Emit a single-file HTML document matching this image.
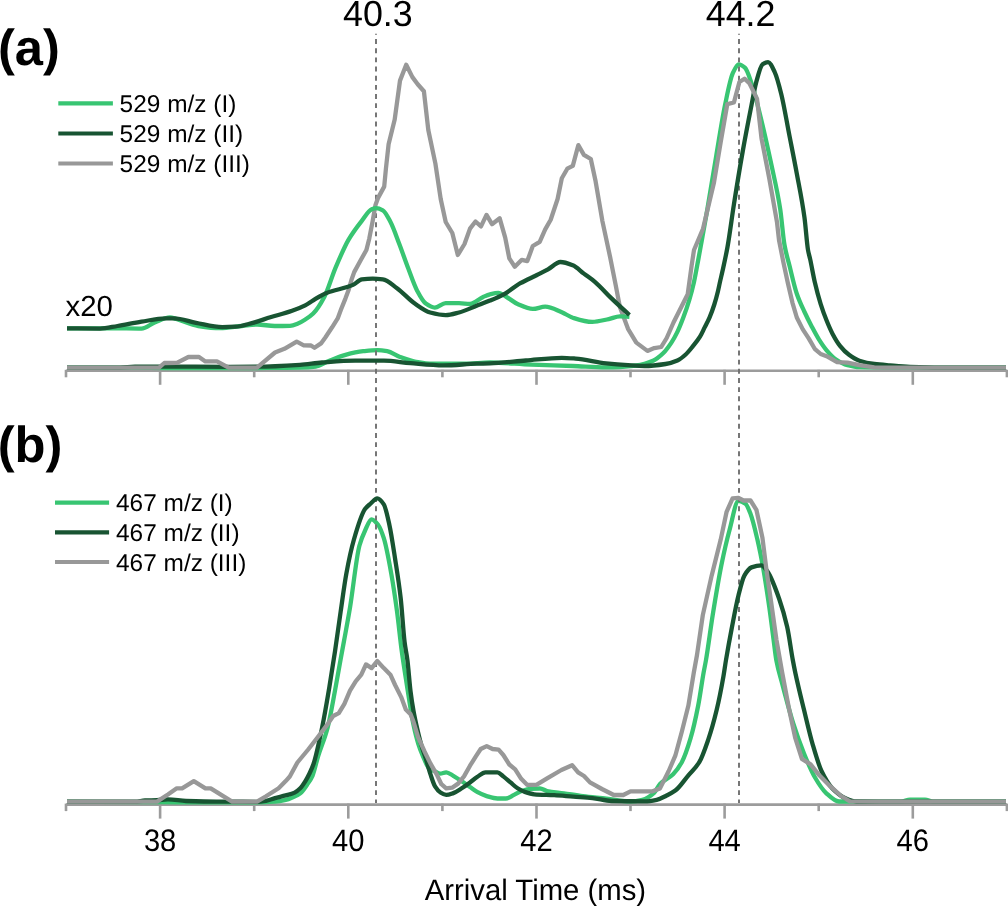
<!DOCTYPE html>
<html><head><meta charset="utf-8"><title>Arrival Time</title>
<style>
html,body{margin:0;padding:0;background:#fff;}
svg{display:block;}
text{font-family:"Liberation Sans",Arial,sans-serif;fill:#000;text-rendering:geometricPrecision;}
.pl{font-size:50.7px;font-weight:bold;}
.big{font-size:36.2px;}
.tk{font-size:31px;}
.x20{font-size:29px;}
.ttl{font-size:29.6px;}
.lg{font-size:24.2px;}
</style></head>
<body>
<svg width="1008" height="906" viewBox="0 0 1008 906">
<line x1="66" y1="370.8" x2="1007" y2="370.8" stroke="#9c9c9c" stroke-width="2.6"/>
<line x1="66.0" y1="369.8" x2="66.0" y2="377.3" stroke="#9c9c9c" stroke-width="2.6"/>
<line x1="160.1" y1="369.8" x2="160.1" y2="384.8" stroke="#9c9c9c" stroke-width="2.6"/>
<line x1="254.2" y1="369.8" x2="254.2" y2="377.3" stroke="#9c9c9c" stroke-width="2.6"/>
<line x1="348.3" y1="369.8" x2="348.3" y2="384.8" stroke="#9c9c9c" stroke-width="2.6"/>
<line x1="442.4" y1="369.8" x2="442.4" y2="377.3" stroke="#9c9c9c" stroke-width="2.6"/>
<line x1="536.5" y1="369.8" x2="536.5" y2="384.8" stroke="#9c9c9c" stroke-width="2.6"/>
<line x1="630.5" y1="369.8" x2="630.5" y2="377.3" stroke="#9c9c9c" stroke-width="2.6"/>
<line x1="724.6" y1="369.8" x2="724.6" y2="384.8" stroke="#9c9c9c" stroke-width="2.6"/>
<line x1="818.7" y1="369.8" x2="818.7" y2="377.3" stroke="#9c9c9c" stroke-width="2.6"/>
<line x1="912.8" y1="369.8" x2="912.8" y2="384.8" stroke="#9c9c9c" stroke-width="2.6"/>
<line x1="1006.9" y1="369.8" x2="1006.9" y2="377.3" stroke="#9c9c9c" stroke-width="2.6"/>
<line x1="66" y1="804.6" x2="1007" y2="804.6" stroke="#9c9c9c" stroke-width="2.6"/>
<line x1="66.0" y1="803.6" x2="66.0" y2="811.1" stroke="#9c9c9c" stroke-width="2.6"/>
<line x1="160.1" y1="803.6" x2="160.1" y2="818.6" stroke="#9c9c9c" stroke-width="2.6"/>
<line x1="254.2" y1="803.6" x2="254.2" y2="811.1" stroke="#9c9c9c" stroke-width="2.6"/>
<line x1="348.3" y1="803.6" x2="348.3" y2="818.6" stroke="#9c9c9c" stroke-width="2.6"/>
<line x1="442.4" y1="803.6" x2="442.4" y2="811.1" stroke="#9c9c9c" stroke-width="2.6"/>
<line x1="536.5" y1="803.6" x2="536.5" y2="818.6" stroke="#9c9c9c" stroke-width="2.6"/>
<line x1="630.5" y1="803.6" x2="630.5" y2="811.1" stroke="#9c9c9c" stroke-width="2.6"/>
<line x1="724.6" y1="803.6" x2="724.6" y2="818.6" stroke="#9c9c9c" stroke-width="2.6"/>
<line x1="818.7" y1="803.6" x2="818.7" y2="811.1" stroke="#9c9c9c" stroke-width="2.6"/>
<line x1="912.8" y1="803.6" x2="912.8" y2="818.6" stroke="#9c9c9c" stroke-width="2.6"/>
<line x1="1006.9" y1="803.6" x2="1006.9" y2="811.1" stroke="#9c9c9c" stroke-width="2.6"/>
<path d="M67.0,367.6 C94.67,367.67 122.33,367.68 150.0,367.8 C163.33,367.86 176.67,368.20 190.0,368.2 C203.33,368.20 216.67,368.20 230.0,368.2 C239.00,368.20 248.00,368.08 257.0,368.0 C271.33,367.87 285.67,367.82 300.0,367.5 C305.23,367.38 310.47,367.10 315.7,366.5 C319.67,366.05 323.63,363.08 327.6,361.5 C333.57,359.13 339.53,356.37 345.5,354.8 C351.43,353.24 357.37,351.85 363.3,351.2 C368.07,350.68 372.83,350.10 377.6,350.1 C380.77,350.10 383.93,350.63 387.1,351.2 C391.40,351.97 395.70,355.43 400.0,357.0 C404.93,358.80 409.87,360.62 414.8,361.5 C420.70,362.55 426.60,363.70 432.5,363.7 C443.53,363.70 454.57,363.70 465.6,363.7 C473.73,363.70 481.87,362.50 490.0,362.5 C503.80,362.50 517.60,364.16 531.4,364.7 C545.20,365.24 559.00,365.50 572.8,366.0 C583.87,366.40 594.93,367.40 606.0,367.4 C616.10,367.40 626.20,366.61 636.3,365.5 C642.07,364.87 647.83,363.02 653.6,360.5 C656.77,359.11 659.93,356.34 663.1,353.3 C665.87,350.64 668.63,346.78 671.4,342.6 C673.40,339.58 675.40,336.01 677.4,331.9 C679.37,327.86 681.33,322.85 683.3,317.6 C685.30,312.27 687.30,306.50 689.3,299.8 C690.87,294.55 692.43,288.80 694.0,281.9 C695.47,275.44 696.93,266.84 698.4,259.0 C699.43,253.47 700.47,247.72 701.5,242.0 C703.47,231.12 705.43,220.38 707.4,209.0 C710.33,192.03 713.27,173.29 716.2,156.0 C719.13,138.71 722.07,119.22 725.0,105.2 C727.60,92.77 730.20,78.82 732.8,73.2 C734.77,68.95 736.73,64.30 738.7,64.3 C740.77,64.30 742.83,65.88 744.9,67.7 C747.10,69.64 749.30,76.86 751.5,83.1 C754.47,91.51 757.43,104.25 760.4,116.2 C764.07,130.96 767.73,147.52 771.4,164.8 C774.33,178.62 777.27,190.04 780.2,209.0 C781.63,218.26 783.07,237.00 784.5,245.0 C786.13,254.12 787.77,258.78 789.4,265.3 C791.87,275.15 794.33,286.46 796.8,293.7 C799.30,301.04 801.80,306.05 804.3,311.5 C806.77,316.87 809.23,321.71 811.7,326.4 C814.20,331.15 816.70,335.96 819.2,339.9 C821.67,343.79 824.13,347.42 826.6,350.3 C829.60,353.80 832.60,357.17 835.6,359.2 C839.57,361.89 843.53,364.20 847.5,365.2 C851.47,366.20 855.43,367.11 859.4,367.2 C872.93,367.50 886.47,367.60 900.0,367.6 C935.33,367.60 970.67,367.60 1006.0,367.6" fill="none" stroke="#38c572" stroke-width="4.3" stroke-linejoin="round"/>
<path d="M67.0,801.6 C97.00,801.80 127.00,802.10 157.0,802.2 C171.33,802.25 185.67,802.27 200.0,802.3 C219.00,802.34 238.00,802.40 257.0,802.4 C263.00,802.40 269.00,802.10 275.0,801.7 C278.57,801.46 282.13,800.75 285.7,799.9 C288.10,799.33 290.50,798.24 292.9,797.2 C295.27,796.18 297.63,795.31 300.0,793.6 C302.37,791.89 304.73,788.09 307.1,784.7 C308.90,782.12 310.70,779.82 312.5,775.8 C314.37,771.63 316.23,762.34 318.1,756.3 C321.23,746.15 324.37,740.04 327.5,728.2 C330.00,718.76 332.50,703.94 335.0,690.7 C336.90,680.64 338.80,669.22 340.7,658.8 C341.80,652.77 342.90,647.02 344.0,641.0 C346.00,630.06 348.00,619.59 350.0,607.6 C353.13,588.81 356.27,557.22 359.4,545.7 C361.27,538.84 363.13,534.62 365.0,530.7 C367.20,526.08 369.40,519.40 371.6,519.4 C373.80,519.40 376.00,522.22 378.2,525.0 C380.07,527.36 381.93,532.41 383.8,538.2 C386.30,545.95 388.80,559.91 391.3,573.8 C393.20,584.36 395.10,597.21 397.0,611.3 C398.53,622.67 400.07,638.60 401.6,650.0 C403.17,661.65 404.73,671.33 406.3,681.3 C408.70,696.57 411.10,713.58 413.5,724.9 C415.07,732.29 416.63,738.50 418.2,743.5 C419.73,748.39 421.27,752.27 422.8,755.8 C424.87,760.56 426.93,766.44 429.0,768.2 C431.17,770.05 433.33,770.71 435.5,771.7 C437.07,772.42 438.63,773.60 440.2,773.6 C442.20,773.60 444.20,772.30 446.2,772.3 C448.57,772.30 450.93,774.48 453.3,775.8 C456.10,777.36 458.90,779.31 461.7,781.2 C464.47,783.07 467.23,785.18 470.0,787.1 C472.37,788.74 474.73,790.63 477.1,791.9 C480.30,793.62 483.50,795.15 486.7,796.1 C490.27,797.16 493.83,798.50 497.4,798.5 C500.17,798.50 502.93,798.50 505.7,798.5 C508.47,798.50 511.23,796.18 514.0,794.9 C516.80,793.60 519.60,791.55 522.4,790.7 C525.17,789.86 527.93,789.10 530.7,788.9 C533.80,788.67 536.90,788.50 540.0,788.5 C542.37,788.50 544.73,790.50 547.1,791.0 C552.67,792.17 558.23,792.50 563.8,793.3 C570.17,794.22 576.53,795.42 582.9,796.2 C590.83,797.17 598.77,797.74 606.7,798.6 C614.63,799.46 622.57,801.40 630.5,801.4 C634.47,801.40 638.43,800.67 642.4,799.8 C646.37,798.93 650.33,796.21 654.3,792.6 C656.20,790.87 658.10,785.99 660.0,784.0 C664.37,779.43 668.73,778.52 673.1,774.2 C676.00,771.33 678.90,767.51 681.8,762.2 C684.73,756.83 687.67,748.05 690.6,738.2 C693.13,729.70 695.67,718.38 698.2,705.5 C700.00,696.34 701.80,682.79 703.6,672.7 C704.40,668.21 705.20,664.64 706.0,660.0 C708.23,647.03 710.47,628.95 712.7,615.1 C715.70,596.49 718.70,578.15 721.7,563.5 C724.33,550.64 726.97,539.43 729.6,529.7 C732.57,518.74 735.53,500.90 738.5,500.9 C740.83,500.90 743.17,502.14 745.5,503.8 C747.17,504.99 748.83,509.53 750.5,513.8 C752.80,519.70 755.10,529.76 757.4,539.6 C759.40,548.16 761.40,558.20 763.4,569.4 C765.37,580.41 767.33,593.44 769.3,607.2 C770.73,617.23 772.17,629.24 773.6,640.0 C774.50,646.76 775.40,655.14 776.3,660.0 C778.27,670.61 780.23,676.10 782.2,683.6 C785.83,697.45 789.47,711.43 793.1,722.9 C796.73,734.37 800.37,744.58 804.0,753.5 C807.67,762.50 811.33,771.24 815.0,777.5 C818.63,783.70 822.27,789.49 825.9,792.8 C830.27,796.78 834.63,801.46 839.0,801.5 C846.00,801.57 853.00,801.60 860.0,801.6 C873.67,801.60 887.33,801.60 901.0,801.6 C904.00,801.60 907.00,799.60 910.0,799.6 C915.00,799.60 920.00,799.60 925.0,799.6 C927.67,799.60 930.33,801.60 933.0,801.6 C957.33,801.60 981.67,801.60 1006.0,801.6" fill="none" stroke="#38c572" stroke-width="4.3" stroke-linejoin="round"/>
<line x1="376" y1="33.8" x2="376" y2="803" stroke="#707070" stroke-width="1.9" stroke-dasharray="4.9 4.26" stroke-dashoffset="3.86"/>
<line x1="739" y1="33.8" x2="739" y2="803" stroke="#707070" stroke-width="1.9" stroke-dasharray="4.9 4.26" stroke-dashoffset="3.86"/>
<path d="M67.0,367.6 C84.67,367.60 102.33,367.60 120.0,367.6 C125.00,367.60 130.00,366.74 135.0,366.7 C143.33,366.63 151.67,366.60 160.0,366.6 C183.33,366.60 206.67,366.80 230.0,366.8 C239.00,366.80 248.00,366.76 257.0,366.7 C271.33,366.61 285.67,365.73 300.0,364.8 C307.33,364.32 314.67,363.05 322.0,362.5 C333.07,361.66 344.13,360.60 355.2,360.6 C364.77,360.60 374.33,360.60 383.9,360.6 C392.73,360.60 401.57,362.49 410.4,363.2 C421.43,364.08 432.47,365.40 443.5,365.4 C454.53,365.40 465.57,364.03 476.6,363.7 C481.07,363.57 485.53,363.54 490.0,363.4 C501.97,363.01 513.93,361.43 525.9,360.5 C537.87,359.57 549.83,357.80 561.8,357.8 C566.40,357.80 571.00,358.23 575.6,358.6 C585.73,359.41 595.87,362.19 606.0,363.3 C613.33,364.10 620.67,364.75 628.0,365.2 C633.53,365.54 639.07,366.00 644.6,366.0 C651.57,366.00 658.53,365.06 665.5,364.0 C669.47,363.40 673.43,362.20 677.4,360.5 C680.17,359.31 682.93,356.97 685.7,354.5 C688.10,352.36 690.50,349.17 692.9,346.2 C695.27,343.27 697.63,340.54 700.0,336.7 C701.60,334.10 703.20,330.32 704.8,327.1 C706.37,323.95 707.93,321.24 709.5,317.6 C711.10,313.89 712.70,309.52 714.3,304.5 C715.50,300.73 716.70,296.29 717.9,291.4 C718.60,288.55 719.30,285.01 720.0,281.9 C720.83,278.20 721.67,274.79 722.5,271.0 C724.17,263.42 725.83,256.23 727.5,247.0 C729.63,235.19 731.77,218.01 733.9,204.5 C736.83,185.92 739.77,167.97 742.7,151.5 C745.63,135.03 748.57,120.05 751.5,105.2 C753.00,97.61 754.50,88.60 756.0,83.1 C758.20,75.03 760.40,65.81 762.6,64.3 C764.43,63.04 766.27,62.10 768.1,62.1 C770.30,62.10 772.50,67.51 774.7,72.1 C776.90,76.69 779.10,85.36 781.3,94.2 C783.90,104.64 786.50,120.58 789.1,133.9 C791.67,147.05 794.23,159.66 796.8,173.6 C799.37,187.54 801.93,199.11 804.5,217.8 C805.67,226.29 806.83,243.38 808.0,250.0 C808.73,254.16 809.47,256.06 810.2,259.4 C811.70,266.23 813.20,275.27 814.7,281.7 C816.70,290.27 818.70,297.73 820.7,304.1 C822.67,310.36 824.63,315.63 826.6,320.5 C828.60,325.45 830.60,330.14 832.6,333.9 C835.07,338.54 837.53,342.73 840.0,345.8 C843.00,349.53 846.00,352.61 849.0,354.8 C852.47,357.33 855.93,359.57 859.4,360.7 C864.37,362.32 869.33,363.37 874.3,364.0 C879.53,364.67 884.77,364.99 890.0,365.4 C896.67,365.93 903.33,366.53 910.0,366.8 C920.00,367.20 930.00,367.60 940.0,367.6 C962.00,367.60 984.00,367.60 1006.0,367.6" fill="none" stroke="#185432" stroke-width="4.3" stroke-linejoin="round"/>
<polyline points="67.0,367.6 159.0,367.6 164.3,363.0 176.8,362.9 188.4,357.0 199.0,357.0 205.4,361.4 217.0,361.4 228.6,367.6 257.0,367.6 275.0,352.5 284.4,348.8 296.7,341.6 303.8,345.3 311.0,345.5 314.5,347.8 321.0,343.4 325.5,337.2 332.1,327.3 337.7,318.4 341.0,309.6 345.4,298.6 348.7,289.7 351.5,279.8 354.2,272.1 360.8,260.0 366.4,250.0 369.3,238.4 372.7,220.8 375.4,205.3 378.2,197.6 384.2,186.6 385.9,168.9 388.6,144.2 394.7,119.5 400.0,80.6 406.2,64.7 412.4,77.1 417.7,84.2 423.9,91.2 428.3,130.0 435.4,163.6 440.7,199.0 445.7,222.0 452.3,233.0 457.8,255.0 464.5,244.0 470.0,228.6 475.5,221.5 481.0,226.4 486.5,214.9 492.0,224.2 499.7,218.3 505.2,237.7 509.3,258.4 514.8,266.7 521.8,259.8 527.3,261.1 532.8,246.0 539.7,241.8 545.2,229.4 550.7,219.7 557.6,199.0 561.8,178.3 567.3,168.7 572.8,165.9 578.3,145.2 583.9,154.8 590.8,159.0 595.6,181.3 602.4,221.1 610.1,257.0 615.6,284.6 619.8,306.7 628.0,328.8 636.3,342.6 647.4,350.9 654.3,348.1 661.2,347.0 666.7,338.0 673.5,322.5 681.3,307.0 687.7,294.2 691.6,265.8 694.0,250.0 703.0,228.8 714.0,182.5 720.6,142.7 727.3,104.1 733.9,102.5 739.4,82.0 744.5,78.7 749.3,83.1 757.0,98.6 761.5,138.3 769.2,178.0 777.0,222.2 779.0,240.0 783.4,262.4 787.9,283.2 792.4,302.6 796.8,317.5 802.8,329.4 808.7,338.4 814.7,348.8 820.7,354.0 826.6,356.2 837.1,362.2 847.5,362.7 859.4,365.2 874.3,367.4 885.0,367.6 1006.0,367.6" fill="none" stroke="#989898" stroke-width="4.3" stroke-linejoin="round" stroke-linecap="butt"/>
<path d="M67.0,328.3 C81.87,328.30 96.73,328.30 111.6,328.3 C121.57,328.30 131.53,328.60 141.5,328.6 C145.87,328.60 150.23,324.22 154.6,322.5 C159.70,320.49 164.80,317.30 169.9,317.3 C172.07,317.30 174.23,318.39 176.4,319.0 C183.70,321.06 191.00,324.88 198.3,326.0 C205.57,327.11 212.83,328.20 220.1,328.2 C227.37,328.20 234.63,326.72 241.9,326.0 C247.00,325.49 252.10,324.50 257.2,324.5 C263.03,324.50 268.87,326.00 274.7,326.0 C279.80,326.00 284.90,325.94 290.0,325.8 C292.67,325.73 295.33,324.52 298.0,323.5 C300.40,322.59 302.80,321.03 305.2,319.5 C307.87,317.80 310.53,316.11 313.2,313.5 C316.90,309.88 320.60,304.01 324.3,297.0 C327.97,290.05 331.63,276.99 335.3,268.3 C339.73,257.80 344.17,247.21 348.6,239.6 C353.00,232.05 357.40,226.40 361.8,220.8 C365.10,216.60 368.40,210.53 371.7,209.3 C373.20,208.74 374.70,208.20 376.2,208.2 C378.40,208.20 380.60,209.16 382.8,210.3 C385.37,211.63 387.93,217.17 390.5,222.0 C393.43,227.51 396.37,236.34 399.3,244.0 C402.27,251.74 405.23,260.54 408.2,268.3 C411.13,275.97 414.07,284.89 417.0,290.4 C419.93,295.91 422.87,301.57 425.8,303.6 C428.77,305.65 431.73,307.60 434.7,307.6 C438.37,307.60 442.03,303.20 445.7,303.2 C450.13,303.20 454.57,303.20 459.0,303.2 C462.67,303.20 466.33,304.00 470.0,304.0 C474.40,304.00 478.80,298.97 483.2,297.0 C485.47,295.99 487.73,294.84 490.0,294.3 C492.77,293.64 495.53,292.90 498.3,292.9 C501.07,292.90 503.83,295.47 506.6,297.0 C510.27,299.03 513.93,302.40 517.6,304.0 C522.67,306.21 527.73,308.90 532.8,308.9 C536.93,308.90 541.07,306.70 545.2,306.7 C550.73,306.70 556.27,309.96 561.8,312.2 C565.47,313.68 569.13,316.55 572.8,317.7 C579.27,319.73 585.73,321.90 592.2,321.9 C597.70,321.90 603.20,320.21 608.7,319.1 C612.40,318.35 616.10,316.40 619.8,316.4 C623.00,316.40 626.20,316.73 629.4,316.9" fill="none" stroke="#38c572" stroke-width="4.3" stroke-linejoin="round"/>
<path d="M67.0,328.3 C78.00,328.40 89.00,328.60 100.0,328.6 C105.83,328.60 111.67,326.94 117.5,326.0 C125.50,324.71 133.50,322.94 141.5,321.7 C149.50,320.46 157.50,318.40 165.5,318.4 C168.40,318.40 171.30,318.40 174.2,318.4 C181.47,318.40 188.73,321.48 196.0,322.8 C204.77,324.39 213.53,327.10 222.3,327.1 C226.67,327.10 231.03,326.93 235.4,326.7 C241.20,326.40 247.00,324.32 252.8,322.8 C258.63,321.27 264.47,319.10 270.3,317.3 C277.57,315.06 284.83,313.27 292.1,310.7 C296.47,309.16 300.83,307.51 305.2,305.3 C307.87,303.95 310.53,301.87 313.2,300.3 C317.63,297.69 322.07,294.80 326.5,293.0 C335.33,289.42 344.17,288.78 353.0,284.9 C355.93,283.61 358.87,279.60 361.8,279.3 C365.47,278.92 369.13,278.70 372.8,278.7 C376.13,278.70 379.47,278.95 382.8,279.3 C387.53,279.79 392.27,284.78 397.0,288.2 C402.93,292.49 408.87,299.51 414.8,303.6 C419.93,307.14 425.07,311.16 430.2,312.5 C435.37,313.84 440.53,315.10 445.7,315.1 C450.13,315.10 454.57,313.63 459.0,312.5 C464.87,311.01 470.73,308.06 476.6,305.8 C481.07,304.08 485.53,302.47 490.0,300.6 C494.60,298.67 499.20,296.78 503.8,294.3 C509.33,291.31 514.87,286.34 520.4,283.2 C525.93,280.06 531.47,277.78 537.0,275.0 C540.67,273.16 544.33,271.41 548.0,269.4 C552.13,267.13 556.27,262.00 560.4,262.0 C564.53,262.00 568.67,263.66 572.8,265.3 C576.50,266.77 580.20,270.84 583.9,273.6 C587.57,276.34 591.23,278.70 594.9,281.8 C600.43,286.48 605.97,293.07 611.5,298.4 C617.47,304.14 623.43,309.47 629.4,315.0" fill="none" stroke="#185432" stroke-width="4.3" stroke-linejoin="round"/>
<path d="M67.0,801.6 C89.67,801.60 112.33,801.60 135.0,801.6 C138.33,801.60 141.67,800.64 145.0,800.5 C149.00,800.33 153.00,800.35 157.0,800.2 C160.67,800.06 164.33,799.30 168.0,799.3 C174.00,799.30 180.00,800.74 186.0,801.0 C192.00,801.26 198.00,801.46 204.0,801.5 C212.33,801.56 220.67,801.56 229.0,801.6 C238.33,801.65 247.67,801.80 257.0,801.8 C260.00,801.80 263.00,801.29 266.0,800.8 C269.00,800.31 272.00,798.92 275.0,798.1 C278.57,797.12 282.13,796.40 285.7,795.4 C288.67,794.57 291.63,793.97 294.6,792.6 C296.40,791.77 298.20,790.26 300.0,788.5 C301.80,786.74 303.60,783.96 305.4,781.1 C306.77,778.93 308.13,776.35 309.5,773.5 C310.83,770.72 312.17,767.91 313.5,764.0 C315.67,757.64 317.83,747.35 320.0,737.6 C321.27,731.90 322.53,725.48 323.8,718.8 C325.67,708.96 327.53,698.12 329.4,686.9 C331.27,675.68 333.13,663.75 335.0,651.3 C336.90,638.63 338.80,624.32 340.7,611.3 C342.57,598.51 344.43,583.95 346.3,573.8 C348.80,560.20 351.30,548.69 353.8,540.0 C357.53,527.02 361.27,514.24 365.0,509.1 C366.90,506.48 368.80,505.16 370.7,503.5 C372.87,501.61 375.03,498.40 377.2,498.4 C379.40,498.40 381.60,501.14 383.8,504.4 C385.67,507.17 387.53,516.53 389.4,525.0 C391.30,533.62 393.20,546.57 395.1,558.8 C396.97,570.82 398.83,581.83 400.7,598.2 C402.00,609.60 403.30,631.53 404.6,642.0 C405.53,649.52 406.47,652.73 407.4,660.0 C408.43,668.05 409.47,682.63 410.5,690.9 C411.50,698.90 412.50,705.39 413.5,711.0 C414.80,718.30 416.10,723.98 417.4,729.6 C418.70,735.22 420.00,740.53 421.3,745.0 C422.83,750.27 424.37,754.01 425.9,758.9 C427.43,763.79 428.97,769.88 430.5,774.4 C432.07,779.02 433.63,784.23 435.2,786.7 C436.87,789.33 438.53,791.24 440.2,792.3 C442.20,793.57 444.20,794.90 446.2,794.9 C448.57,794.90 450.93,793.92 453.3,793.1 C456.10,792.13 458.90,790.07 461.7,788.3 C464.47,786.55 467.23,784.43 470.0,782.4 C472.37,780.66 474.73,778.53 477.1,777.0 C479.90,775.19 482.70,772.30 485.5,772.3 C489.47,772.30 493.43,772.30 497.4,772.3 C499.37,772.30 501.33,774.91 503.3,776.4 C505.70,778.21 508.10,780.40 510.5,782.4 C512.87,784.37 515.23,786.82 517.6,788.3 C520.00,789.80 522.40,791.08 524.8,791.9 C527.97,792.98 531.13,794.04 534.3,794.3 C540.97,794.86 547.63,794.82 554.3,795.2 C560.63,795.56 566.97,796.22 573.3,796.7 C579.67,797.18 586.03,797.47 592.4,798.1 C598.73,798.73 605.07,800.85 611.4,801.0 C622.53,801.27 633.67,801.40 644.8,801.4 C648.77,801.40 652.73,800.63 656.7,799.8 C659.87,799.14 663.03,797.25 666.2,795.7 C669.23,794.22 672.27,792.85 675.3,790.6 C679.67,787.36 684.03,780.48 688.4,775.3 C692.03,770.99 695.67,768.18 699.3,762.2 C702.20,757.43 705.10,748.89 708.0,740.4 C710.90,731.91 713.80,721.82 716.7,709.8 C718.90,700.68 721.10,689.54 723.3,677.1 C724.20,672.01 725.10,665.36 726.0,660.0 C727.87,648.89 729.73,638.72 731.6,629.0 C733.90,617.02 736.20,604.23 738.5,595.2 C740.50,587.35 742.50,578.84 744.5,575.4 C746.83,571.39 749.17,568.23 751.5,567.4 C754.80,566.22 758.10,565.40 761.4,565.4 C763.40,565.40 765.40,568.72 767.4,571.4 C771.37,576.72 775.33,587.91 779.3,599.2 C781.93,606.70 784.57,615.23 787.2,627.0 C789.07,635.35 790.93,649.91 792.8,660.0 C793.63,664.50 794.47,668.77 795.3,672.7 C798.20,686.37 801.10,697.86 804.0,709.8 C806.93,721.87 809.87,734.75 812.8,744.8 C815.70,754.74 818.60,764.88 821.5,771.0 C825.13,778.67 828.77,784.66 832.4,788.4 C836.77,792.90 841.13,796.34 845.5,798.2 C849.13,799.75 852.77,801.48 856.4,801.5 C870.93,801.58 885.47,801.60 900.0,801.6 C935.33,801.60 970.67,801.60 1006.0,801.6" fill="none" stroke="#185432" stroke-width="4.3" stroke-linejoin="round"/>
<polyline points="67.0,801.6 157.0,801.6 167.9,794.5 176.8,788.3 182.1,788.3 193.8,781.1 205.4,788.3 210.7,788.3 232.1,801.6 257.0,801.6 266.0,796.3 278.6,788.3 285.7,781.1 289.8,776.5 297.4,762.5 308.2,749.5 317.5,737.5 327.5,724.4 333.2,716.0 338.8,713.2 344.4,703.8 350.0,690.7 355.7,681.3 361.3,674.7 366.0,664.4 371.6,668.1 377.2,661.0 383.8,668.1 390.4,674.7 395.1,685.0 401.2,697.1 405.8,709.5 410.5,714.1 413.5,721.8 418.2,737.3 424.4,751.2 430.5,763.6 436.7,774.4 441.4,784.2 446.2,788.3 452.1,787.7 458.1,783.6 464.0,776.4 470.0,765.7 476.0,756.2 480.7,749.0 486.7,746.1 492.6,749.0 498.6,749.6 503.3,755.0 509.3,764.5 515.2,769.3 521.2,778.8 527.1,784.8 536.4,784.8 547.1,778.3 561.4,770.0 572.1,765.2 578.1,772.4 584.0,776.0 590.0,782.4 601.9,789.0 613.8,795.0 623.3,795.0 630.5,791.4 651.9,791.4 660.0,788.4 668.7,771.0 675.3,755.7 681.8,731.7 688.4,705.5 693.8,672.7 697.0,655.0 702.8,615.1 711.7,575.4 720.7,539.6 726.6,511.8 732.6,498.3 738.5,497.9 743.5,500.5 750.5,500.5 756.4,509.8 762.4,537.6 766.4,569.4 771.3,603.2 776.5,640.0 782.2,672.7 788.8,707.7 795.3,738.2 801.9,758.9 810.6,764.4 819.3,775.3 830.2,786.2 841.1,796.0 849.9,801.3 880.0,801.6 1006.0,801.6" fill="none" stroke="#989898" stroke-width="4.3" stroke-linejoin="round" stroke-linecap="butt"/>
<text x="-2.1" y="64.9" class="pl">(a)</text>
<text x="-2.3" y="462" class="pl">(b)</text>
<text transform="translate(377.85,26.25) scale(0.99,1)" class="big" text-anchor="middle">40.3</text>
<text transform="translate(740.6,25.95) scale(0.99,1)" class="big" text-anchor="middle">44.2</text>
<text transform="translate(65.5,315.6) scale(1.015,1)" class="x20">x20</text>
<line x1="58.3" y1="103.4" x2="112.9" y2="103.4" stroke="#38c572" stroke-width="4.2"/>
<text transform="translate(119.6,112.0) scale(1.01,1)" class="lg">529 m/z (I)</text>
<line x1="58.3" y1="133.5" x2="112.9" y2="133.5" stroke="#185432" stroke-width="4.2"/>
<text transform="translate(119.6,142.1) scale(1.01,1)" class="lg">529 m/z (II)</text>
<line x1="58.3" y1="163.5" x2="112.9" y2="163.5" stroke="#989898" stroke-width="4.2"/>
<text transform="translate(119.6,172.1) scale(1.01,1)" class="lg">529 m/z (III)</text>
<line x1="55" y1="502.7" x2="109.1" y2="502.7" stroke="#38c572" stroke-width="4.2"/>
<text transform="translate(116,511.3) scale(1.01,1)" class="lg">467 m/z (I)</text>
<line x1="55" y1="532.4" x2="109.1" y2="532.4" stroke="#185432" stroke-width="4.2"/>
<text transform="translate(116,541.0) scale(1.01,1)" class="lg">467 m/z (II)</text>
<line x1="55" y1="562" x2="109.1" y2="562" stroke="#989898" stroke-width="4.2"/>
<text transform="translate(116,570.6) scale(1.01,1)" class="lg">467 m/z (III)</text>
<text transform="translate(160.1,851.2) scale(0.94,1)" class="tk" text-anchor="middle">38</text>
<text transform="translate(348.3,851.2) scale(0.94,1)" class="tk" text-anchor="middle">40</text>
<text transform="translate(536.5,851.2) scale(0.94,1)" class="tk" text-anchor="middle">42</text>
<text transform="translate(724.6,851.2) scale(0.94,1)" class="tk" text-anchor="middle">44</text>
<text transform="translate(912.8,851.2) scale(0.94,1)" class="tk" text-anchor="middle">46</text>
<text transform="translate(535.4,899.7) scale(0.99,1)" class="ttl" text-anchor="middle">Arrival Time (ms)</text>
</svg>
</body></html>
